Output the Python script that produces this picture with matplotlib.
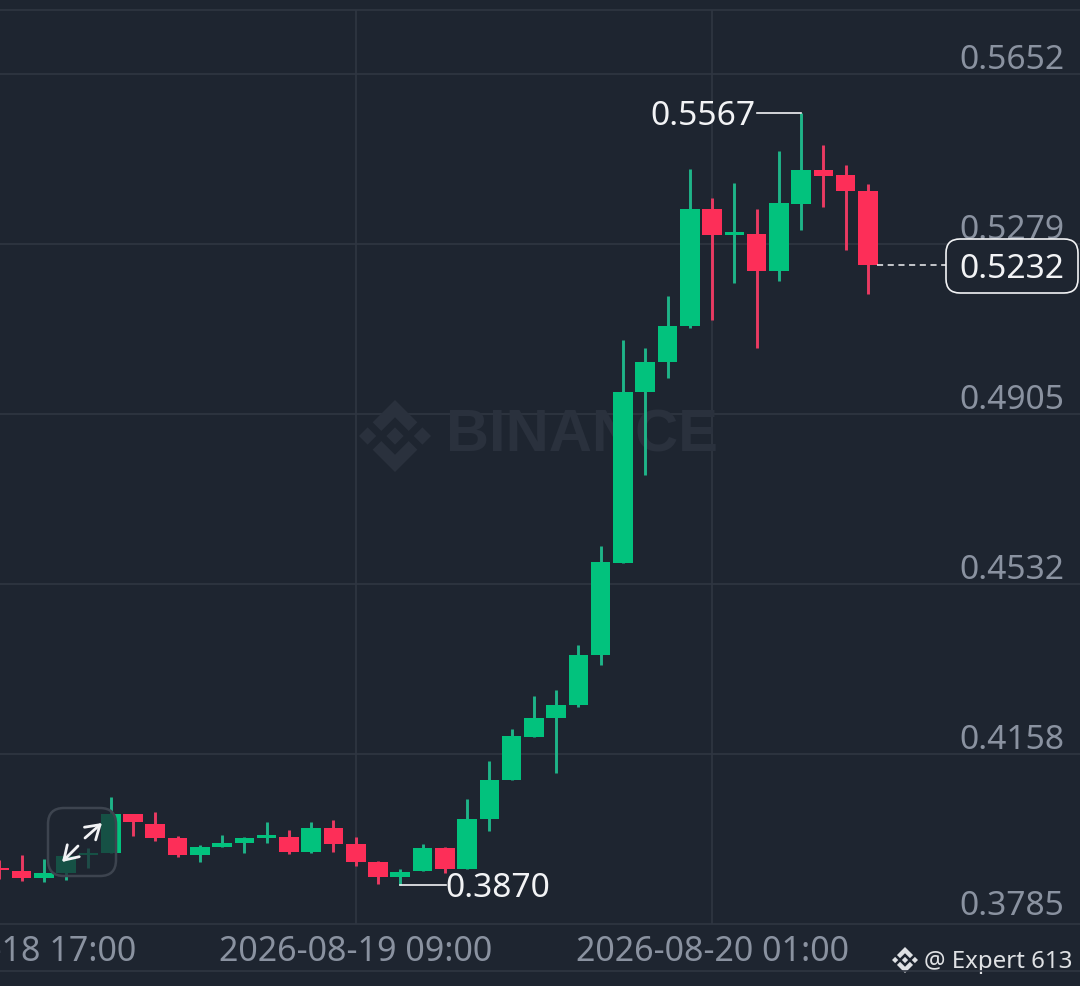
import matplotlib
matplotlib.use("Agg")
import matplotlib.pyplot as plt
from matplotlib.lines import Line2D
from matplotlib.patches import FancyArrowPatch, FancyBboxPatch, Polygon
from matplotlib.transforms import Affine2D, ScaledTranslation

plt.rcParams['font.family'] = ['Noto Sans', 'DejaVu Sans']

# hourly candles
opens = [0.3907, 0.3902, 0.3887, 0.3898, 0.3936, 0.3942, 0.4027, 0.4005, 0.3974, 0.3936,
         0.3955, 0.3962, 0.3973, 0.3976, 0.3943, 0.3996, 0.3960, 0.3921, 0.3888, 0.3901,
         0.3951, 0.3905, 0.4015, 0.4102, 0.4196, 0.4238, 0.4266, 0.4376, 0.4579, 0.4953,
         0.5020, 0.5099, 0.5356, 0.5299, 0.5301, 0.5219, 0.5367, 0.5442, 0.5430, 0.5395]
highs = [0.3926, 0.3937, 0.3928, 0.3934, 0.3952, 0.4064, 0.4027, 0.4030, 0.3978, 0.3958,
         0.3980, 0.3975, 0.4009, 0.3991, 0.4008, 0.4013, 0.3977, 0.3924, 0.3905, 0.3960,
         0.3955, 0.4060, 0.4143, 0.4213, 0.4286, 0.4298, 0.4398, 0.4615, 0.5068, 0.5050,
         0.5164, 0.5443, 0.5380, 0.5413, 0.5355, 0.5483, 0.5567, 0.5495, 0.5452, 0.5410]
lows = [0.3884, 0.3880, 0.3877, 0.3882, 0.3909, 0.3941, 0.3978, 0.3967, 0.3932, 0.3922,
        0.3954, 0.3942, 0.3964, 0.3939, 0.3942, 0.3944, 0.3913, 0.3872, 0.3870, 0.3901,
        0.3898, 0.3905, 0.3989, 0.4101, 0.4196, 0.4117, 0.4262, 0.4354, 0.4579, 0.4771,
        0.4984, 0.5094, 0.5112, 0.5192, 0.5051, 0.5197, 0.5309, 0.5359, 0.5265, 0.5168]
closes = [0.3903, 0.3887, 0.3898, 0.3934, 0.3942, 0.4027, 0.4008, 0.3974, 0.3937, 0.3955,
          0.3964, 0.3974, 0.3981, 0.3943, 0.3995, 0.3960, 0.3921, 0.3889, 0.3900, 0.3951,
          0.3905, 0.4015, 0.4102, 0.4198, 0.4238, 0.4266, 0.4376, 0.4581, 0.4953, 0.5020,
          0.5099, 0.5356, 0.5299, 0.5305, 0.5219, 0.5368, 0.5441, 0.5429, 0.5396, 0.5232]

price_ticks = [0.3785, 0.4158, 0.4532, 0.4905, 0.5279, 0.5652]
price_labels = ['0.3785', '0.4158', '0.4532', '0.4905', '0.5279', '0.5652']
time_ticks = [0, 16, 32]
time_labels = ['2026-08-18 17:00', '2026-08-19 09:00', '2026-08-20 01:00']

BG = '#1e2530'
GRID = '#2f3642'
GREEN = '#02c27d'
RED = '#fd2e58'
GREEN_WICK = '#1fb488'
RED_WICK = '#ea3a62'
GRAY = '#8a92a0'
WHITE = '#f2f3f5'
MARK = '#2a313d'

W, H = 1080, 986
CANDLE_PX = 22.27
LEFT_PX = -10   # axes starts past the edge so the first time label is kept
FIRST_PX = -0.6
PRICE_PER_PX = (0.5652 - 0.3785) / 850
SIZE = 24.2


def draw_logo(ax, pix, cx, cy, s, color, zorder):
    # s is half the height of the whole mark
    def poly(points):
        ax.add_patch(Polygon([(cx + px_ * s, cy + py_ * s) for px_, py_ in points], closed=True,
                             facecolor=color, edgecolor='none', transform=pix, zorder=zorder))

    poly([(0, -0.24), (0.24, 0), (0, 0.24), (-0.24, 0)])
    poly([(-1, 0), (-0.76, -0.24), (-0.52, 0), (-0.76, 0.24)])
    poly([(1, 0), (0.76, -0.24), (0.52, 0), (0.76, 0.24)])
    poly([(0, -1), (0.62, -0.38), (0.38, -0.14), (0, -0.52), (-0.38, -0.14), (-0.62, -0.38)])
    poly([(0, 1), (0.62, 0.38), (0.38, 0.14), (0, 0.52), (-0.38, 0.14), (-0.62, 0.38)])


def main():
    fig = plt.figure(figsize=(W / 100, H / 100), dpi=100, facecolor=BG)
    ax = fig.add_axes([LEFT_PX / W, 0, (W - LEFT_PX) / W, 1], facecolor=BG)
    for spine in ax.spines.values():
        spine.set_visible(False)

    # picture pixels, y going down, for the decoration that is not data
    pix = Affine2D().scale(1 / W, -1 / H).translate(0, 1) + fig.transFigure

    ax.set_xlim((LEFT_PX - FIRST_PX) / CANDLE_PX, (W - FIRST_PX) / CANDLE_PX)
    ax.set_ylim(0.3785 - (H - 924) * PRICE_PER_PX, 0.3785 + 924 * PRICE_PER_PX)
    top_line = 0.3785 + (924 - 10) * PRICE_PER_PX

    ax.set_axisbelow(True)
    ax.grid(axis='y', color=GRID, linewidth=1.2)
    ax.vlines(time_ticks[1:], 0.3785, top_line, color=GRID, linewidth=1.2, zorder=0.6)
    ax.axhline(top_line, color=GRID, linewidth=1.2, zorder=0.6)
    fig.add_artist(Line2D([0, W], [971, 971], color=GRID, linewidth=1.2, transform=pix, zorder=0.6))

    ax.yaxis.tick_right()
    ax.set_yticks(price_ticks)
    ax.set_yticklabels(price_labels)
    ax.tick_params(axis='y', length=0, pad=-11.5, labelsize=SIZE, labelcolor=GRAY)
    for i, label in enumerate(ax.get_yticklabels()):
        # the bottom label sits a little higher than the others
        shift = ScaledTranslation(0, 0.01 if i == 0 else -0.03, fig.dpi_scale_trans)
        label.set_ha('right')
        label.set_va('bottom')
        label.set_transform(label.get_transform() + shift)

    ax.set_xticks(time_ticks)
    ax.set_xticklabels(time_labels)
    ax.tick_params(axis='x', length=0, pad=-24.5, labelsize=24.5, labelcolor=GRAY)
    for label in ax.get_xticklabels():
        label.set_va('center')

    # watermark
    draw_logo(ax, pix, 395, 436, 36, MARK, 0.7)
    ax.text(582, 436, 'BINANCE', transform=pix, color=MARK, fontsize=43, fontweight='bold',
            family='Liberation Sans', ha='center', va='center', zorder=0.7)

    # candles
    xs = list(range(len(opens)))
    bottoms = [min(o, c) for o, c in zip(opens, closes)]
    heights = [abs(c - o) for o, c in zip(opens, closes)]
    body_colors = [GREEN if c >= o else RED for o, c in zip(opens, closes)]
    wick_colors = [GREEN_WICK if c >= o else RED_WICK for o, c in zip(opens, closes)]
    ax.vlines(xs, lows, highs, colors=wick_colors, linewidth=2.1, zorder=3)
    ax.bar(xs, heights, bottom=bottoms, width=0.88, color=body_colors, linewidth=0, zorder=4)

    # high and low marks
    high_i = highs.index(max(highs))
    low_i = lows.index(min(lows))
    ax.plot([high_i - 2.0, high_i], [highs[high_i], highs[high_i]], color=WHITE, linewidth=1.2, zorder=5)
    ax.plot([low_i, low_i + 2.05], [lows[low_i], lows[low_i]], color=WHITE, linewidth=1.2, zorder=5)
    ax.annotate(f'{highs[high_i]:.4f}', xy=(high_i, highs[high_i]), xytext=(-46, -4),
                textcoords='offset pixels', ha='right', va='center', color=WHITE, fontsize=SIZE, zorder=5)
    ax.annotate(f'{lows[low_i]:.4f}', xy=(low_i, lows[low_i]), xytext=(45, -3),
                textcoords='offset pixels', ha='left', va='center', color=WHITE, fontsize=SIZE, zorder=5)

    # last price
    ax.plot([xs[-1] + 0.4, (946 - FIRST_PX) / CANDLE_PX], [closes[-1], closes[-1]], color=WHITE,
            linewidth=1.1, linestyle=(0, (4, 3)), zorder=5)
    ax.add_patch(FancyBboxPatch((946, 239), 132, 54, boxstyle='round,pad=0,rounding_size=14',
                                facecolor=BG, edgecolor=WHITE, linewidth=1.2, transform=pix, zorder=6))
    ax.text(1064, 269, f'{closes[-1]:.4f}', transform=pix, color=WHITE, fontsize=SIZE,
            ha='right', va='center', zorder=7)

    # expand button
    ax.add_patch(FancyBboxPatch((48, 808), 68, 68, boxstyle='round,pad=0,rounding_size=16',
                                facecolor=BG, alpha=0.72, edgecolor='none', transform=pix, zorder=8))
    ax.add_patch(FancyBboxPatch((48, 808), 68, 68, boxstyle='round,pad=0,rounding_size=16',
                                facecolor='none', edgecolor='#3d444f', linewidth=1.8, transform=pix, zorder=8))
    for start, end in [((85, 838), (102, 823)), ((78, 846), (62, 862))]:
        ax.add_patch(FancyArrowPatch(start, end, arrowstyle='->,head_length=6,head_width=3.8', color=WHITE,
                                     linewidth=2.0, shrinkA=0, shrinkB=0, mutation_scale=1.6,
                                     transform=pix, zorder=9))

    # credit
    draw_logo(ax, pix, 905, 960, 13, '#dfe1e4', 9)
    ax.text(1072, 962, '@ Expert 613', transform=pix, color='#dfe1e4', fontsize=17.3,
            ha='right', va='center', zorder=9)

    fig.savefig('out.png', dpi=100, facecolor=BG)
    plt.close(fig)


if __name__ == "__main__":
    main()
